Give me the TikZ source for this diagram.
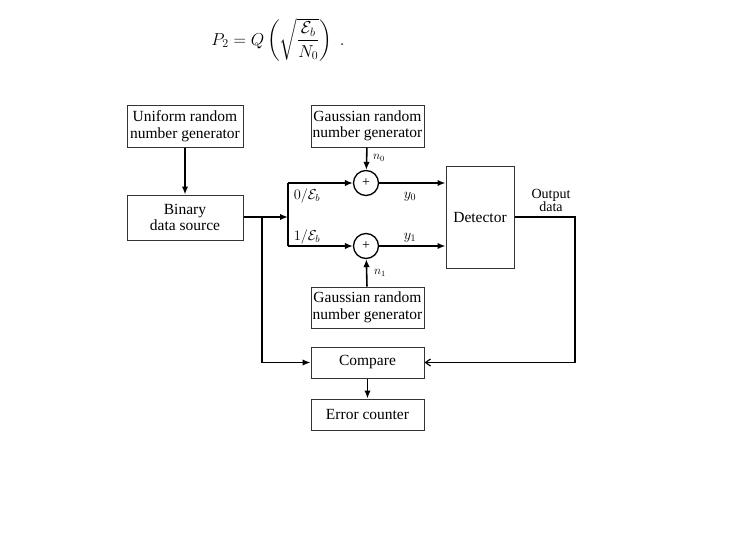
\documentclass[tikz,border=0pt]{standalone}
\usepackage{amsmath}
\usepackage{fontspec}
\setmainfont{Liberation Serif}
\usetikzlibrary{arrows.meta}
\begin{document}
\begin{tikzpicture}[x=1pt,y=-1pt,
  blk/.style={draw=black!80,line width=1pt,align=center,inner sep=0pt,font=\fontsize{15.5}{16.5}\selectfont},
  adder/.style={draw,circle,line width=1.3pt,minimum size=25pt,inner sep=0pt,font=\fontsize{14}{14}\selectfont},
  conn/.style={line width=1.6pt,-{Latex[length=8pt,width=6.5pt]}},
  wire/.style={line width=1.6pt},
  lbl/.style={font=\fontsize{14}{15}\selectfont,inner sep=1pt}]
\useasboundingbox (0,0) rectangle (748,541);
\node (f) at (278,40) {\fontsize{18}{22}\selectfont $P_2 = Q\left(\sqrt{\dfrac{\mathcal{E}_b}{N_0}}\right)\;.$};
\node[blk,minimum width=116pt,minimum height=42pt] (u) at (185,126) {Uniform random\\number generator};
\node[blk,minimum width=113pt,minimum height=42pt] (g0) at (367.5,126) {Gaussian random\\number generator};
\node[blk,minimum width=116pt,minimum height=45pt] (b) at (185,217.5) {Binary\\data source};
\node[adder] (a0) at (366,183) {+};
\node[adder] (a1) at (366,246) {+};
\node[blk,minimum width=68pt,minimum height=102pt] (d) at (480,217) {Detector};
\node[blk,minimum width=113pt,minimum height=41pt] (g1) at (367.5,307.5) {Gaussian random\\number generator};
\node[blk,minimum width=113pt,minimum height=31pt] (c) at (367.5,362.5) {Compare};
\node[blk,minimum width=113pt,minimum height=31pt] (e) at (367.5,414.5) {Error counter};
\coordinate (bus0) at (288,183);
\coordinate (bus1) at (288,246);
\coordinate (busm) at (288,217);
\coordinate (tap) at (262,217);
\coordinate (tapd) at (262,362.5);
\coordinate (od) at (575,217);
\coordinate (odd) at (575,362.5);
\draw[conn] (u) -- (b);
\draw[conn] (b.east |- busm) -- (busm);
\draw[wire] (bus0) -- (bus1);
\draw[conn] (bus0) -- (a0);
\draw[conn] (bus1) -- (a1);
\draw[conn] (a0) -- (d.west |- a0);
\draw[conn] (a1) -- (d.west |- a1);
\draw[conn] (g0) -- (a0);
\draw[conn] (g1) -- (a1);
\draw[wire] (tap) -- (tapd);
\draw[conn] (tapd) -- (c.west);
\draw[wire] (d.east) -- (od) -- (odd);
\draw[line width=1.2pt,-{Straight Barb[length=5pt,width=7pt]}] (odd) -- (c.east);
\draw[conn] (c) -- (e);
\node[lbl] (l0) at (307,196) {$0/\mathcal{E}_b$};
\node[lbl] (l1) at (307,237) {$1/\mathcal{E}_b$};
\node[lbl] (y0) at (410,197) {$y_0$};
\node[lbl] (y1) at (410,238) {$y_1$};
\node[lbl,font=\fontsize{12}{13}\selectfont] (n0) at (379,158) {$n_0$};
\node[lbl,font=\fontsize{12}{13}\selectfont] (n1) at (380,273) {$n_1$};
\node[lbl,align=center,font=\fontsize{14}{13}\selectfont] (out) at (551,200) {Output\\data};
\end{tikzpicture}
\end{document}
